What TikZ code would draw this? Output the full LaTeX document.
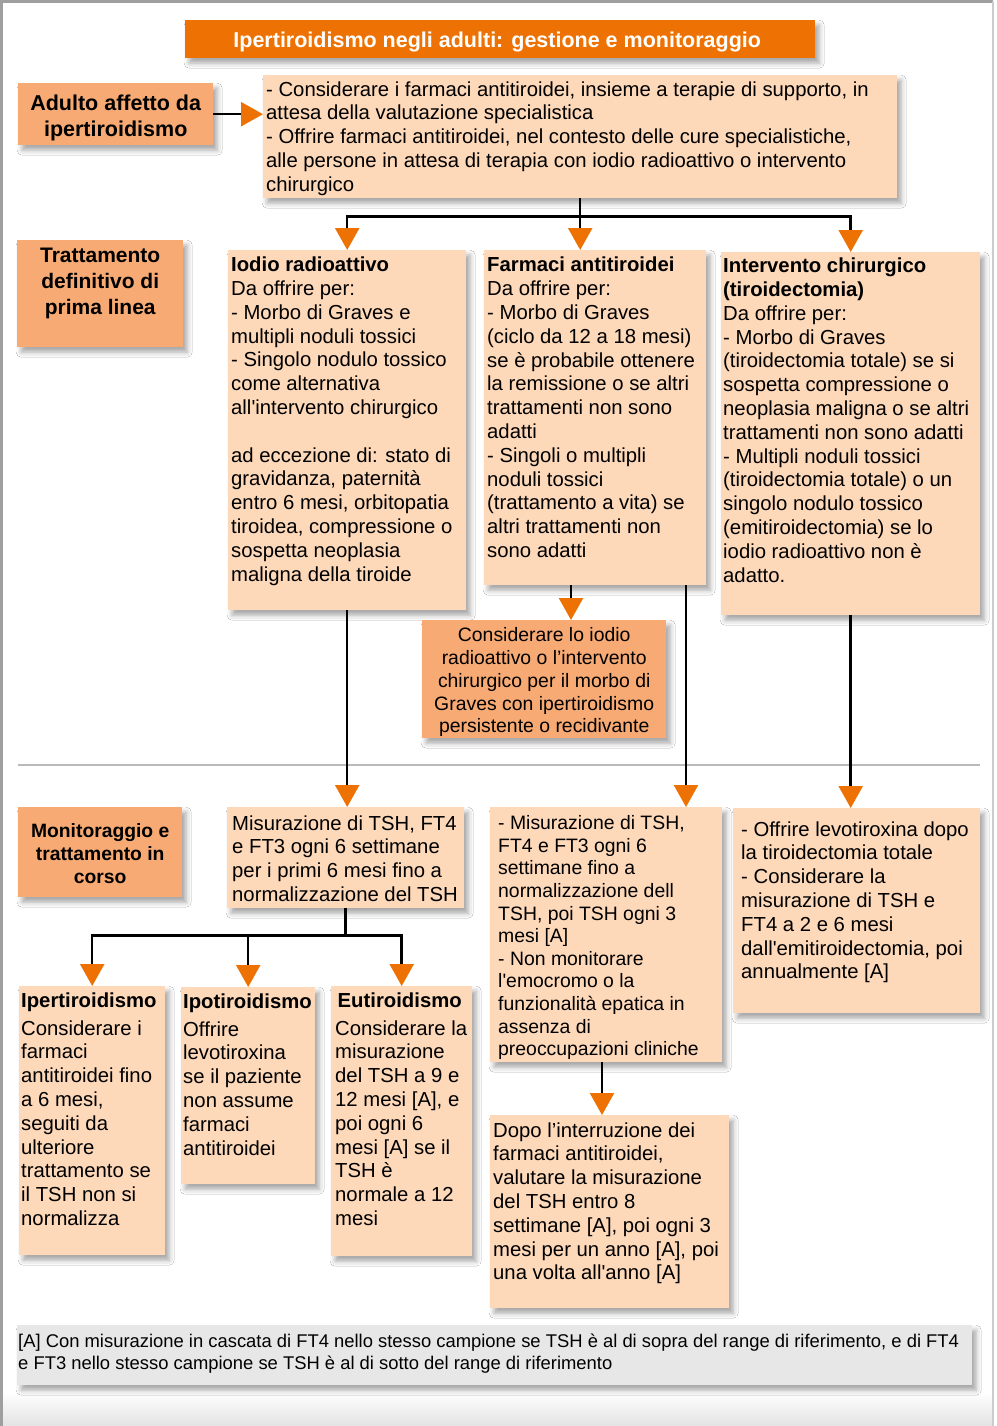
\documentclass[tikz,border=0pt]{standalone}
\usepackage{fontspec}
\setmainfont{Liberation Sans}[Ligatures=TeXOff]
\usetikzlibrary{arrows.meta,shadows.blur,calc}
\definecolor{orA}{RGB}{238,114,3}
\definecolor{orB}{RGB}{247,170,115}
\definecolor{peach}{RGB}{253,216,185}
\definecolor{footgray}{RGB}{231,231,231}
\begin{document}
\begin{tikzpicture}[x=1pt,y=-1pt,
  boxshadow/.style={blur shadow={shadow xshift=4pt,shadow yshift=-5pt,shadow blur radius=5pt,shadow opacity=35}},
  pbox/.style={fill=peach,boxshadow,inner sep=0pt,anchor=north west},
  obox/.style={fill=orB,boxshadow,inner sep=0pt,anchor=north west},
  body/.style={anchor=north west,inner sep=0pt,align=left,font=\fontsize{20.3}{23.8}\selectfont},
  ctext/.style={align=center,inner sep=0pt},
  conn/.style={line width=2.5pt,black},
  arr/.style={conn,-{Triangle[width=24pt,length=22pt,color=orA]}}]
\useasboundingbox (0,0) rectangle (996,1426);
\fill[white] (0,0) rectangle (996,1426);
\shade[top color=white,bottom color=gray!22] (3,1392) rectangle (993,1426);
\draw[gray!75,line width=3pt] (1.5,1426) -- (1.5,1.5) -- (993,1.5);
\draw[gray!40,line width=2pt] (993,1.5) -- (993,1426);

% title
\node[fill=orA,boxshadow,inner sep=0pt,anchor=north west,minimum width=630pt,minimum height=38pt] (title) at (185,20) {};
\node[ctext,text=white,font=\fontsize{21.5}{26}\selectfont\bfseries] (titlet) at ($(title.center)+(-3,3)$)
  {Ipertiroidismo negli adulti: gestione e monitoraggio};

% row 1
\node[obox,minimum width=195pt,minimum height=62pt] (adulto) at (18,83) {};
\node[ctext,font=\fontsize{21.5}{26}\selectfont\bfseries] (adultot) at ($(adulto.center)+(0,3.5)$)
  {Adulto affetto da\\ipertiroidismo};
\node[pbox,minimum width=634pt,minimum height=123pt] (top) at (263,75) {};
\node[body] (topt) at (266,79.3) {\strut- Considerare i farmaci antitiroidei, insieme a terapie di supporto, in\\attesa della valutazione specialistica\\- Offrire farmaci antitiroidei, nel contesto delle cure specialistiche,\\alle persone in attesa di terapia con iodio radioattivo o intervento\\chirurgico};

% row 2
\node[obox,minimum width=166pt,minimum height=107pt] (tratt) at (17,240) {};
\node[ctext,anchor=north,font=\fontsize{21}{26}\selectfont\bfseries] (trattt) at ($(tratt.north)+(0,3.8)$)
  {\strut Trattamento\\definitivo di\\prima linea};

\node[pbox,minimum width=238pt,minimum height=360pt] (iodio) at (228,250) {};
\node[body] (iodiot) at (231,254.8) {\strut\textbf{Iodio radioattivo}\\Da offrire per:\\- Morbo di Graves e\\multipli noduli tossici\\- Singolo nodulo tossico\\come alternativa\\all'intervento chirurgico\\[23.8pt]ad eccezione di: stato di\\gravidanza, paternità\\entro 6 mesi, orbitopatia\\tiroidea, compressione o\\sospetta neoplasia\\maligna della tiroide};

\node[pbox,minimum width=222pt,minimum height=335pt] (farm) at (484,250) {};
\node[body] (farmt) at (487,255) {\strut\textbf{Farmaci antitiroidei}\\Da offrire per:\\- Morbo di Graves\\(ciclo da 12 a 18 mesi)\\se è probabile ottenere\\la remissione o se altri\\trattamenti non sono\\adatti\\- Singoli o multipli\\noduli tossici\\(trattamento a vita) se\\altri trattamenti non\\sono adatti};

\node[pbox,minimum width=259pt,minimum height=363pt] (interv) at (721,252) {};
\node[body] (intervt) at (723,255.8) {\strut\textbf{Intervento chirurgico}\\\textbf{(tiroidectomia)}\\Da offrire per:\\- Morbo di Graves\\(tiroidectomia totale) se si\\sospetta compressione o\\neoplasia maligna o se altri\\trattamenti non sono adatti\\- Multipli noduli tossici\\(tiroidectomia totale) o un\\singolo nodulo tossico\\(emitiroidectomia) se lo\\iodio radioattivo non è\\adatto.};

\node[obox,minimum width=244pt,minimum height=118pt] (cons) at (422,620) {};
\node[ctext,font=\fontsize{19.4}{22.8}\selectfont] (const) at ($(cons.center)+(0,3)$)
  {Considerare lo iodio\\radioattivo o l’intervento\\chirurgico per il morbo di\\Graves con ipertiroidismo\\persistente o recidivante};

% separator
\draw[gray!55,line width=1.5pt] (18,765) -- (980,765);

% row 3
\node[obox,minimum width=164pt,minimum height=90pt] (monit) at (18,807) {};
\node[ctext,font=\fontsize{19.3}{23}\selectfont\bfseries] (monitt) at ($(monit.center)+(0,1)$)
  {Monitoraggio e\\trattamento in\\corso};

\node[pbox,minimum width=237pt,minimum height=101pt] (mis1) at (227,807) {};
\node[body] (mis1t) at (232,813.3) {\strut Misurazione di TSH, FT4\\e FT3 ogni 6 settimane\\per i primi 6 mesi fino a\\normalizzazione del TSH};

\node[pbox,minimum width=232pt,minimum height=255pt] (mis2) at (490,807) {};
\node[body,font=\fontsize{19.4}{22.6}\selectfont] (mis2t) at (498,813.7) {\strut- Misurazione di TSH,\\FT4 e FT3 ogni 6\\settimane fino a\\normalizzazione dell\\TSH, poi TSH ogni 3\\mesi [A]\\- Non monitorare\\l'emocromo o la\\funzionalità epatica in\\assenza di\\preoccupazioni cliniche};

\node[pbox,minimum width=247pt,minimum height=205pt] (offr) at (733,808) {};
\node[body] (offrt) at (741,819.3) {\strut- Offrire levotiroxina dopo\\la tiroidectomia totale\\- Considerare la\\misurazione di TSH e\\FT4 a 2 e 6 mesi\\dall'emitiroidectomia, poi\\annualmente [A]};

% row 4
\node[pbox,minimum width=146pt,minimum height=269pt] (iper) at (19,986) {};
\node[body] (ipert) at (21,990.3) {\strut\textbf{Ipertiroidismo}\\[4.2pt]Considerare i\\farmaci\\antitiroidei fino\\a 6 mesi,\\seguiti da\\ulteriore\\trattamento se\\il TSH non si\\normalizza};

\node[pbox,minimum width=134pt,minimum height=197pt] (ipo) at (181,987) {};
\node[body] (ipot) at (183,991.3) {\strut\textbf{Ipotiroidismo}\\[4.2pt]Offrire\\levotiroxina\\se il paziente\\non assume\\farmaci\\antitiroidei};

\node[pbox,minimum width=141pt,minimum height=270pt] (eu) at (331,986) {};
\node[body] (eut) at (335,990.3) {\strut\hspace*{2.5pt}\textbf{Eutiroidismo}\\[4.2pt]Considerare la\\misurazione\\del TSH a 9 e\\12 mesi [A], e\\poi ogni 6\\mesi [A] se il\\TSH è\\normale a 12\\mesi};

\node[pbox,minimum width=239pt,minimum height=193pt] (dopo) at (490,1115) {};
\node[body] (dopot) at (493,1120.3) {\strut Dopo l’interruzione dei\\farmaci antitiroidei,\\valutare la misurazione\\del TSH entro 8\\settimane [A], poi ogni 3\\mesi per un anno [A], poi\\una volta all'anno [A]};

% footnote
\node[fill=footgray,boxshadow,inner sep=0pt,anchor=north west,minimum width=955pt,minimum height=60pt] (foot) at (17,1325) {};
\node[anchor=north west,inner sep=0pt,align=left,font=\fontsize{18.4}{22}\selectfont] (foott) at (18,1331.6)
  {\strut[A] Con misurazione in cascata di FT4 nello stesso campione se TSH è al di sopra del range di riferimento, e di FT4\\e FT3 nello stesso campione se TSH è al di sotto del range di riferimento};

% connectors
\draw[arr] (adulto.east) -- (adulto.east -| top.west);
\coordinate (s1) at ($(top.south)+(0,18)$);
\draw[conn] (top.south) -- (s1);
\draw[arr] (s1) -- (s1 |- farm.north);
\draw[arr] (s1) -| (iodio.north);
\draw[arr] (s1) -| (interv.north);
\draw[arr] (iodio.south) -- (iodio.south |- mis1.north);
\coordinate (fa) at ($(farm.south west)+(87,0)$);
\coordinate (fb) at ($(farm.south west)+(202,0)$);
\draw[arr] (fa) -- (fa |- cons.north);
\draw[arr] (fb) -- (fb |- mis2.north);
\draw[arr] (interv.south) -- (interv.south |- offr.north);
\coordinate (s2) at ($(mis1.south)+(0,27)$);
\draw[conn] (mis1.south) -- (s2);
\draw[arr] (s2) -| (iper.north);
\draw[arr] (s2) -| (ipo.north);
\draw[arr] (s2) -| (eu.north);
\coordinate (mb) at ($(mis2.south west)+(112,0)$);
\draw[arr] (mb) -- (mb |- dopo.north);
\end{tikzpicture}
\end{document}
